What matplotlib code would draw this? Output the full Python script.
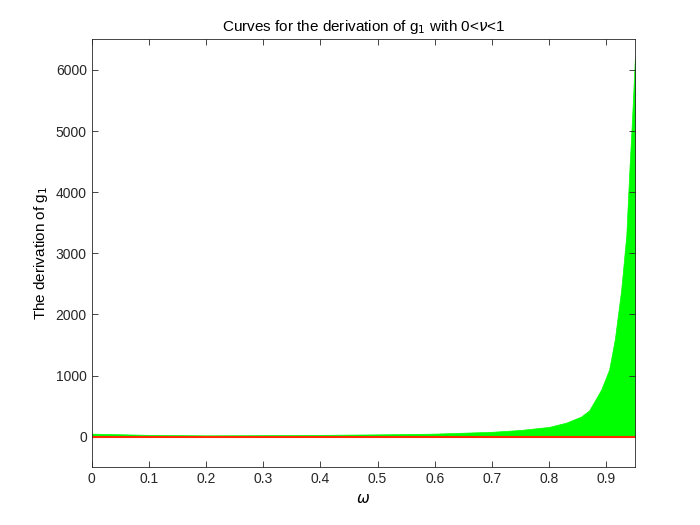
import numpy as np
import matplotlib
matplotlib.use('Agg')
import matplotlib.pyplot as plt

plt.rcParams['font.family'] = ['Liberation Sans', 'DejaVu Sans']

# upper envelope of the green family of curves
omega = [0.0, 0.1, 0.2, 0.3, 0.4, 0.5, 0.6, 0.7, 0.75, 0.8, 0.83, 0.856, 0.87,
         0.891, 0.905, 0.915, 0.926, 0.935, 0.94, 0.945, 0.95]
upper = [50, 30, 22, 25, 30, 38, 50, 80, 110, 160, 230, 330, 430,
         770, 1100, 1600, 2400, 3300, 4300, 5200, 6200]
lower = [0] * len(omega)
red_line = [0] * len(omega)

fig = plt.figure(figsize=(7, 5.25), dpi=100)
ax = fig.add_axes([0.131, 0.11, 0.776, 0.815])

ax.fill_between(omega, lower, upper, color='#00ff00', linewidth=0.5, edgecolor='#00ff00')
ax.plot(omega, red_line, color='#ff2a00', linewidth=1.5)

ax.set_xlim(0, 0.95)
ax.set_ylim(-500, 6500)
ax.set_xticks(np.arange(0, 0.91, 0.1))
ax.set_xticklabels(['0', '0.1', '0.2', '0.3', '0.4', '0.5', '0.6', '0.7', '0.8', '0.9'])
ax.set_yticks([0, 1000, 2000, 3000, 4000, 5000, 6000])
ax.tick_params(direction='in', top=True, right=True, labelsize=10, colors='#262626',
               length=4, width=0.6)
for s in ax.spines.values():
    s.set_color('#262626')
    s.set_linewidth(0.6)

ax.set_xlabel(r'$\omega$', fontsize=11)
ax.set_ylabel('The derivation of g$_1$', fontsize=11)
ax.set_title(r'Curves for the derivation of g$_1$ with 0<$\nu$<1', fontsize=11)

fig.savefig('out.png', dpi=100)
